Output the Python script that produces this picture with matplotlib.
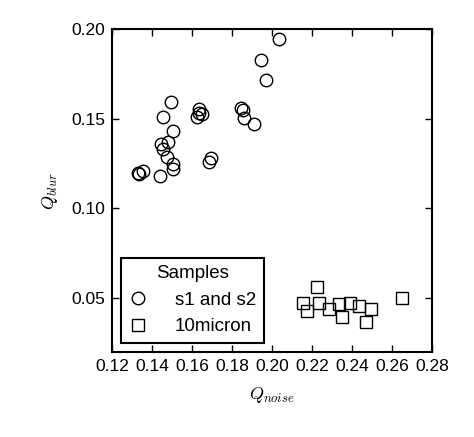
import numpy as np
import matplotlib
matplotlib.use('Agg')
import matplotlib.pyplot as plt

plt.rcParams['font.family'] = ['Liberation Sans', 'DejaVu Sans']
plt.rcParams['mathtext.fontset'] = 'cm'

# --- Data
s12_noise = [0.2037, 0.1943, 0.1968, 0.1493, 0.1457, 0.1635, 0.1637, 0.1627, 0.1648,
             0.1845, 0.1853, 0.1858, 0.1910, 0.1507, 0.1443, 0.1478, 0.1453, 0.1473,
             0.1507, 0.1503, 0.1697, 0.1685, 0.1332, 0.1353, 0.1337, 0.1440]
s12_blur  = [0.1944, 0.1827, 0.1716, 0.1593, 0.1508, 0.1552, 0.1533, 0.1508, 0.1524,
             0.1558, 0.1548, 0.1506, 0.1469, 0.1433, 0.1359, 0.1370, 0.1329, 0.1285,
             0.1248, 0.1220, 0.1283, 0.1260, 0.1199, 0.1210, 0.1192, 0.1181]
m10_noise = [0.2227, 0.2157, 0.2173, 0.2237, 0.2287, 0.2333, 0.2350, 0.2390, 0.2433,
             0.2493, 0.2470, 0.2650]
m10_blur  = [0.0564, 0.0474, 0.0428, 0.0471, 0.0438, 0.0467, 0.0396, 0.0471, 0.0456,
             0.0438, 0.0369, 0.0502]

# --- Plot
fig = plt.figure(figsize=(4.74, 4.37), dpi=100)
ax = fig.add_axes([0.2363, 0.1945, 0.6751, 0.7391])
ax.plot(s12_noise, s12_blur, 'o', mfc='none', mec='k', mew=1.0, ms=9, label='s1 and s2')
ax.plot(m10_noise, m10_blur, 's', mfc='none', mec='k', mew=1.0, ms=8, label='10micron')
ax.set_xlim([0.12, 0.28])
ax.set_ylim([0.02, 0.20])
ax.set_xticks(np.arange(0.12, 0.2801, 0.02))
ax.set_yticks([0.05, 0.10, 0.15, 0.20])
ax.xaxis.set_major_formatter(matplotlib.ticker.FormatStrFormatter('%.2f'))
ax.yaxis.set_major_formatter(matplotlib.ticker.FormatStrFormatter('%.2f'))
ax.tick_params(direction='in', top=True, right=True, length=5, width=1, labelsize=12.5, pad=5)
for sp in ax.spines.values():
    sp.set_linewidth(1.5)
ax.set_xlabel(r'$Q_{noise}$', fontsize=13, labelpad=8)
ax.set_ylabel(r'$Q_{blur}$', fontsize=13, labelpad=8)
leg = ax.legend(title='Samples', loc='lower left', fontsize=13.5, title_fontsize=13.5,
                fancybox=False, framealpha=1, edgecolor='k', borderaxespad=0.5,
                handlelength=1.0, handletextpad=1.45, labelspacing=0.5, borderpad=0.4)
leg.get_frame().set_linewidth(1.5)
fig.savefig('out.png', dpi=100)
